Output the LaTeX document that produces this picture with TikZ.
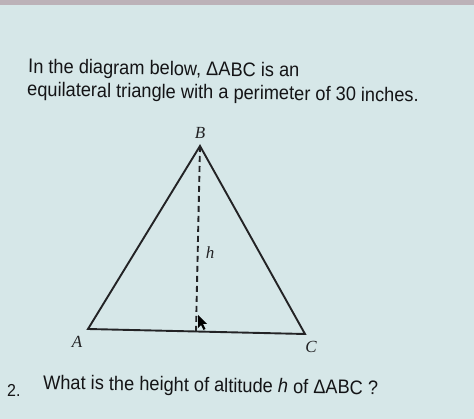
\documentclass[tikz,border=0pt]{standalone}
\usepackage{fontspec}
\setmainfont{Liberation Sans}
\newfontfamily\serifit{Liberation Serif}[ItalicFont=* Italic]
\definecolor{bgc}{RGB}{214,231,232}
\definecolor{topc}{RGB}{188,178,184}
\definecolor{inkc}{RGB}{20,20,22}
\definecolor{linec}{RGB}{35,35,37}
\begin{document}
\begin{tikzpicture}[x=1pt,y=-1pt,
  qtext/.style={anchor=base west,inner sep=0pt,text=inkc,yscale=1.08,font=\fontsize{18.2}{22}\selectfont},
  vlabel/.style={inner sep=0pt,text=linec,font=\serifit\itshape\fontsize{17}{20}\selectfont},
  side/.style={draw=linec,line width=1.9pt,line join=miter},
  alt/.style={draw=linec,line width=1.9pt,dash pattern=on 6pt off 4pt}]
\fill[bgc] (0,0) rectangle (474,419);
\useasboundingbox (0,0) rectangle (474,419);
\fill[topc] (0,0) rectangle (474,5);
% text
\node[qtext,rotate=-0.8] (t1) at (28,73) {In the diagram below, ΔABC is an};
\node[qtext,rotate=-0.8] (t2) at (27,96) {equilateral triangle with a perimeter of 30 inches.};
% triangle
\coordinate (A) at (88,329);
\coordinate (B) at (200,146);
\coordinate (C) at (305,334);
\coordinate (F) at (196,331);
\draw[side] (A) -- (B) -- (C) -- cycle;
\draw[alt] (B) -- (F);
\node[vlabel] (lB) at (200,133) {B};
\node[vlabel] (lh) at (210,253) {h};
\node[vlabel] (lA) at (77,342) {A};
\node[vlabel] (lC) at (311,347) {C};
% cursor
\fill[black] (198,315) -- (198,328) -- (201,325) -- (203.5,330) -- (205.5,329) -- (203,324) -- (207,324) -- cycle;
% question
\node[qtext,font=\fontsize{16}{18}\selectfont] (n2) at (7,397) {2.};
\node[qtext,rotate=-0.9] (q) at (43,389) {What is the height of altitude \textit{h} of ΔABC ?};
\end{tikzpicture}
\end{document}
